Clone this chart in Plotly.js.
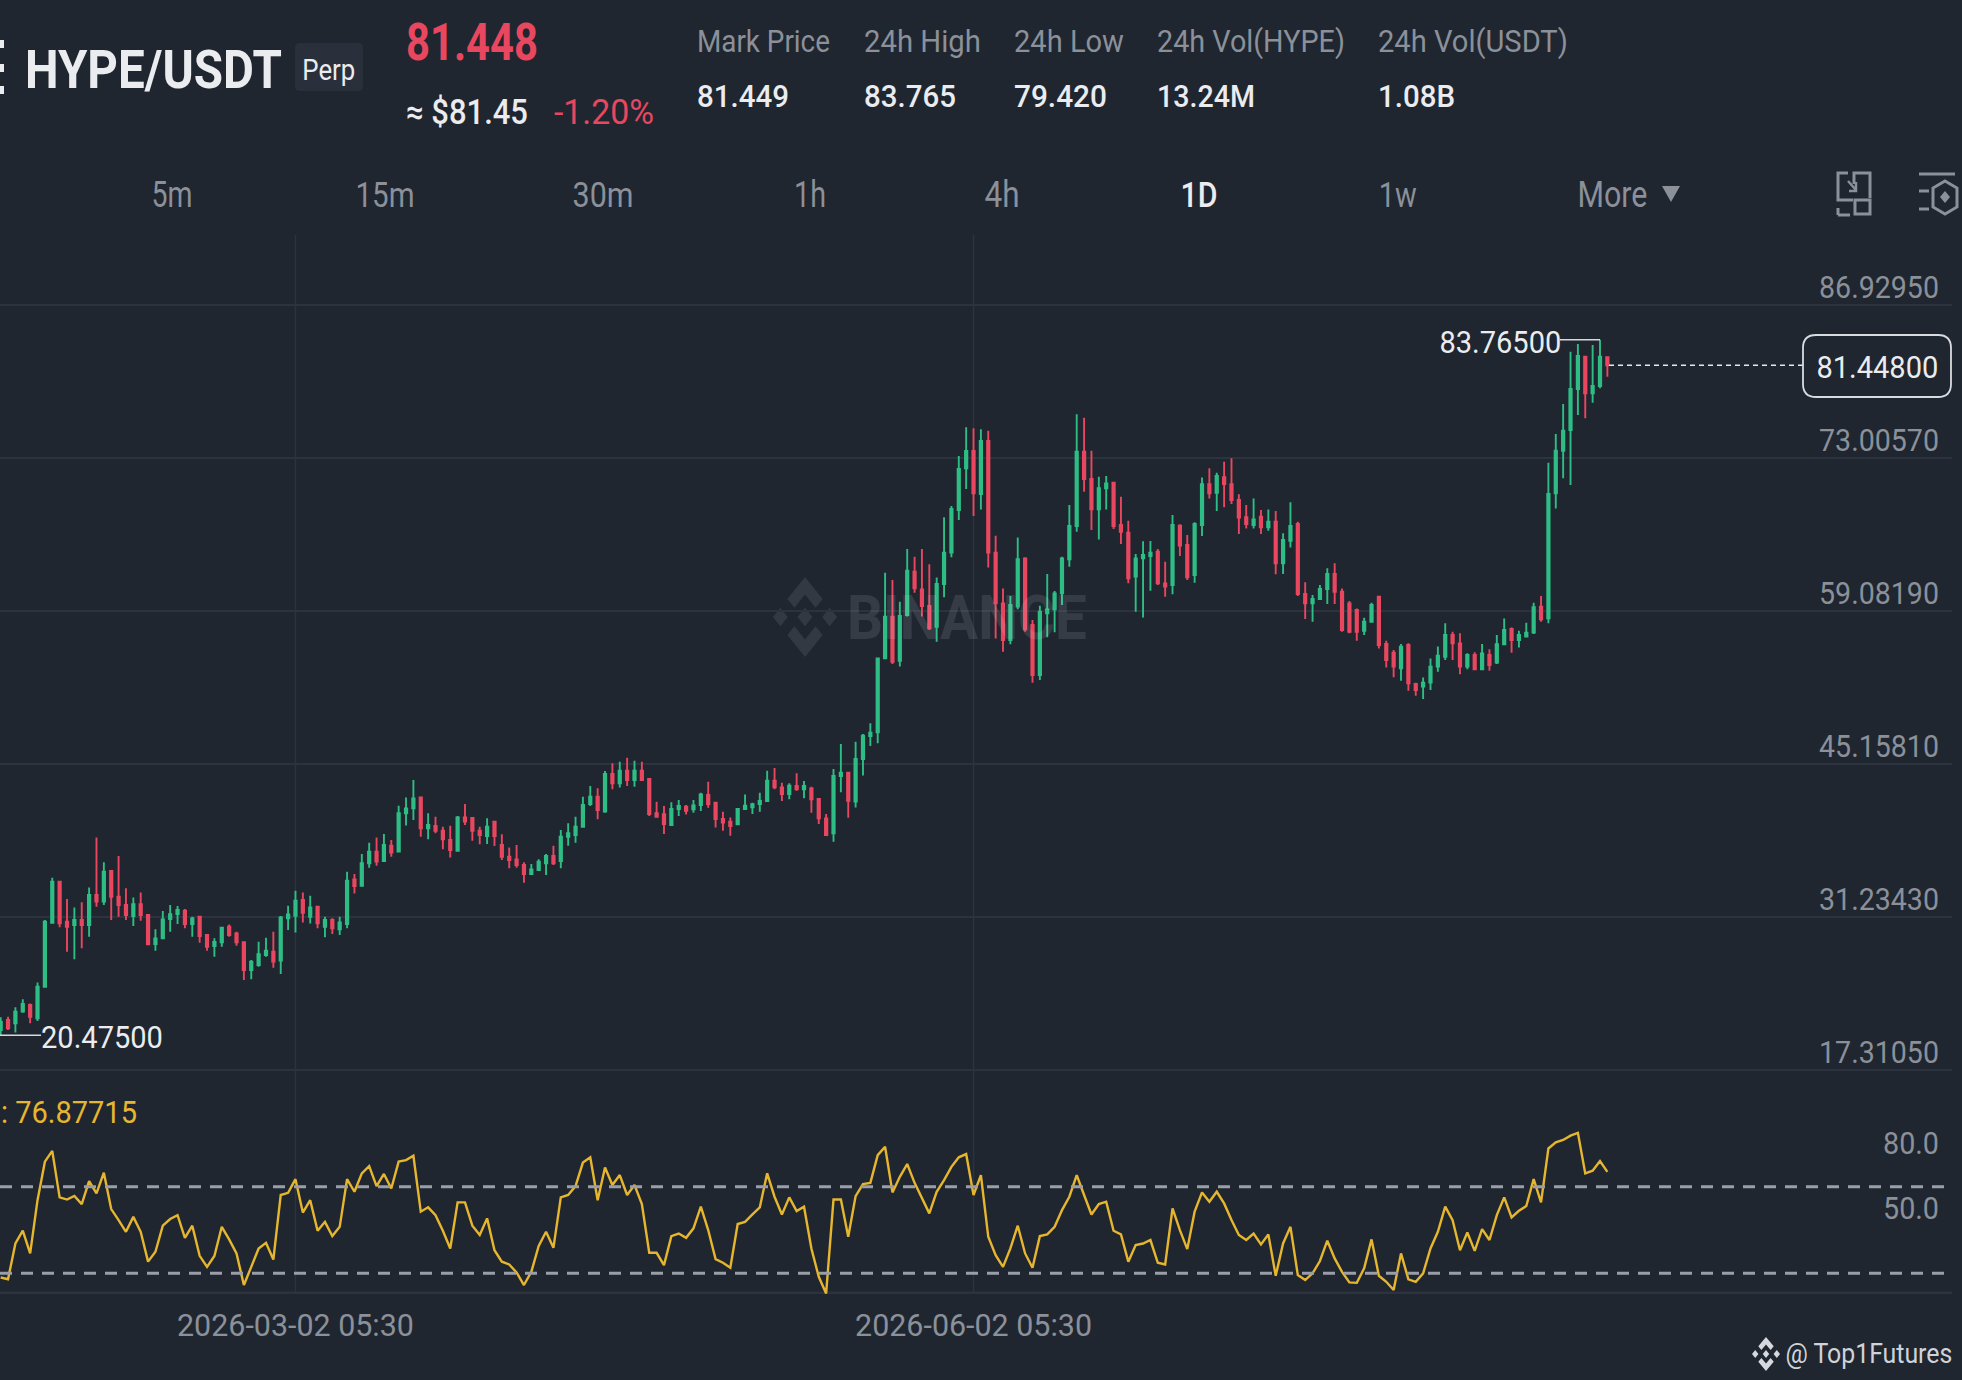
<!DOCTYPE html>
<html><head><meta charset="utf-8">
<script src="https://cdn.plot.ly/plotly-3.0.1.min.js"></script>
<style>html,body{margin:0;padding:0;background:#1F2630}#c{width:1962px;height:1380px}</style></head>
<body><div id="c"></div>
<script>
const firstDay = '2026-01-21';
const opens = [
20.95,21.86,21.56,22.62,23.22,22.01,24.89,30.71,34.45,30.80,
30.50,30.96,30.50,33.23,32.63,35.42,33.08,32.32,31.32,32.41,
31.41,28.77,29.29,31.05,31.50,31.81,30.59,31.26,29.59,28.59,
28.93,30.35,29.74,28.93,26.41,26.86,27.77,28.07,27.26,31.11,
31.35,32.78,31.26,32.17,30.35,30.96,30.11,30.59,34.66,34.08,
36.12,37.18,36.33,37.72,37.18,40.67,41.12,42.12,39.30,39.51,
39.09,38.24,37.27,40.30,40.24,39.09,38.60,39.91,37.78,36.72,
36.48,35.96,35.14,35.51,36.12,36.78,36.33,38.54,38.69,39.45,
41.51,42.18,40.82,44.25,43.40,44.55,43.70,44.55,43.79,40.67,
40.60,39.60,41.06,41.27,41.03,41.42,42.33,41.64,40.15,39.91,
39.66,41.06,41.21,41.51,41.79,43.64,43.03,42.42,43.15,42.85,
42.94,41.97,40.21,38.85,44.06,44.37,41.73,45.61,47.70,
48.04,54.77,58.57,54.56,58.72,62.66,61.05,59.54,57.65,61.54,64.39,
68.27,72.07,73.64,69.73,74.55,64.39,59.78,56.44,59.48,63.87,
57.81,53.26,58.87,59.23,60.69,63.79,66.82,73.58,71.10,68.33,
70.25,70.76,66.91,66.21,62.21,63.87,64.09,64.48,61.60,61.45,
66.85,65.09,62.36,66.91,70.61,69.85,71.25,70.61,69.19,67.61,
66.91,67.67,66.70,67.21,63.42,65.48,67.00,60.63,59.78,60.17,
61.08,62.45,60.84,59.78,59.17,57.29,58.11,60.39,56.08,55.29,
53.86,55.99,52.44,52.20,52.56,54.02,54.92,56.90,56.14,54.02,
55.08,53.77,55.08,54.38,56.05,57.44,56.44,56.75,57.11,59.48,
58.41,69.79,73.67,75.55,79.29,82.23,78.89,79.56,82.17];
const highs = [
22.10,22.16,23.01,23.74,23.37,25.28,30.96,34.81,34.51,32.87,
32.11,32.57,33.93,38.48,36.21,35.45,36.78,33.84,33.02,33.47,
31.50,30.11,31.78,32.32,32.23,31.96,31.26,31.32,29.68,29.29,
30.35,30.56,29.89,28.99,27.32,28.99,29.35,29.89,31.32,32.26,
33.63,33.47,33.17,32.23,31.26,31.11,31.26,35.36,35.14,36.96,
38.00,38.48,38.79,38.24,41.36,42.12,43.70,42.18,40.67,40.36,
39.45,39.54,40.42,41.51,40.30,39.45,40.21,40.00,38.76,37.57,
37.78,36.21,36.05,36.48,36.96,37.72,39.15,39.76,40.36,42.18,
43.15,42.94,44.52,45.22,45.37,45.73,45.46,45.37,43.85,41.73,
41.33,41.67,41.88,41.42,41.88,42.55,43.55,41.73,40.82,40.30,
41.12,42.39,41.64,42.55,44.55,44.79,43.46,43.40,44.31,43.61,
43.09,42.03,40.60,44.70,46.98,44.43,47.19,47.89,48.86,
54.84,62.57,61.90,59.93,64.72,64.03,64.72,63.33,62.12,67.61,68.64,
73.19,75.80,75.71,75.62,75.49,65.94,61.14,60.45,65.76,63.97,
58.26,59.57,62.45,60.90,64.03,68.73,76.98,76.68,73.67,71.31,
71.37,70.85,69.49,67.30,64.27,65.42,65.45,64.72,63.57,67.82,
66.97,66.00,67.15,71.22,72.07,71.67,72.67,72.98,69.70,68.73,
69.33,68.27,68.33,68.18,66.15,68.97,67.21,61.69,60.54,61.45,
62.97,63.42,61.14,60.00,59.32,58.47,59.84,60.45,56.38,55.53,
56.08,56.14,52.56,53.02,54.77,55.84,57.96,57.20,57.05,55.23,
55.32,56.08,55.59,56.90,58.41,57.59,57.29,58.02,59.84,60.45,
72.58,75.19,77.92,82.68,83.38,82.29,83.29,83.765,82.23];
const lows = [
20.475,20.95,20.73,22.52,21.56,21.77,24.83,30.65,30.29,28.07,
27.38,28.38,29.44,32.17,32.32,30.96,31.26,30.96,30.41,30.90,
28.68,28.17,29.20,29.89,30.59,30.20,29.44,28.89,28.17,27.62,
28.53,29.44,28.62,25.50,25.56,26.71,27.62,26.62,26.04,30.05,
29.83,30.74,30.65,30.20,29.38,29.68,29.59,30.20,33.38,33.99,
35.72,35.90,36.27,36.72,37.12,39.57,40.06,38.54,38.30,38.85,
37.39,36.66,37.18,39.60,38.18,37.85,37.88,37.69,36.42,35.66,
35.72,34.35,35.05,35.45,35.05,35.96,35.66,37.72,38.00,39.36,
41.33,40.12,40.73,42.85,43.03,43.15,43.09,43.64,40.42,40.30,
38.79,39.54,40.42,40.57,40.73,40.88,41.18,39.39,39.09,38.63,
39.60,40.97,40.60,40.82,41.70,42.85,41.79,41.94,42.73,42.03,
40.73,39.69,38.63,38.09,42.58,40.27,41.21,44.12,46.79,
47.04,54.68,54.26,54.02,58.57,60.75,58.57,57.35,56.29,60.33,63.97,
67.36,70.19,67.73,68.33,63.03,56.59,55.38,56.05,59.23,57.20,
52.56,52.80,56.69,57.14,59.63,63.12,66.30,69.94,66.45,65.60,
68.33,66.54,65.18,61.60,59.02,58.48,60.93,61.45,60.39,60.60,
64.09,61.90,61.66,65.91,69.33,68.18,68.52,68.82,66.09,66.60,
66.60,66.09,66.39,62.42,62.45,64.85,60.45,58.35,58.11,60.14,
59.72,59.72,57.20,57.05,56.38,56.90,58.02,55.68,53.95,53.05,
52.74,51.83,51.37,51.07,51.89,53.56,54.62,54.62,53.32,53.77,
53.71,53.71,53.65,54.26,55.99,55.29,55.77,56.69,56.99,58.11,
57.96,68.42,71.16,70.55,76.92,76.62,78.04,79.35,80.41];
const closes = [
21.71,21.10,22.62,23.31,22.16,24.89,30.80,34.45,30.65,30.35,
30.96,30.50,33.23,32.63,35.36,33.08,32.32,31.41,32.41,31.41,
28.74,29.29,31.02,31.50,31.87,30.59,31.11,29.50,28.53,28.96,
30.26,29.59,28.93,26.41,27.17,27.86,28.17,27.17,31.20,31.47,
32.72,31.62,32.11,30.65,30.96,30.20,30.74,34.54,34.05,36.12,
37.18,36.27,37.78,37.09,40.67,41.12,42.03,39.30,39.60,39.09,
38.30,37.33,40.30,39.91,39.09,38.69,39.45,38.60,36.72,36.42,
35.96,35.14,35.57,36.27,36.78,36.12,38.54,38.85,39.45,41.42,
42.18,40.97,44.25,43.40,44.55,43.70,44.55,43.70,40.60,40.36,
39.69,41.06,41.33,40.91,41.39,42.39,41.51,40.15,39.82,39.51,
41.06,41.36,41.51,41.79,43.64,43.03,42.42,43.18,42.85,43.15,
41.94,40.21,38.69,44.06,44.37,41.82,45.61,47.74,48.01,
54.77,58.57,54.47,58.63,62.75,61.14,59.54,57.50,61.54,64.39,68.37,
72.00,73.64,69.79,74.55,64.39,59.78,56.44,59.63,63.79,57.41,
53.26,59.02,59.23,60.69,63.87,66.82,73.58,71.10,68.33,70.25,
70.70,66.82,66.30,62.06,63.87,64.18,64.39,61.60,61.30,66.91,
65.03,62.15,67.00,70.61,69.79,71.37,70.64,69.19,67.58,67.00,
67.42,66.70,67.21,63.42,65.54,66.82,60.63,59.78,60.17,61.08,
62.45,60.84,57.35,57.20,57.20,58.11,59.63,55.99,54.62,54.02,
55.84,52.50,51.89,52.56,54.02,55.02,56.90,56.14,54.02,55.08,
53.77,55.23,54.17,56.05,57.35,56.44,56.90,57.11,59.42,58.32,
69.73,73.67,75.49,79.29,82.29,78.89,79.56,82.23,81.448];
const rsi = [
28.1,27.3,43.8,49.7,39.2,63.8,81.6,86.6,65.1,64.1,
65.8,62.0,72.6,66.9,76.5,59.7,54.6,49.2,56.1,49.2,
35.4,40.0,52.0,55.1,56.9,46.4,52.0,38.1,33.0,38.0,
51.5,45.7,39.2,24.6,33.0,41.5,44.1,36.4,66.2,67.2,
73.5,58.1,63.8,49.7,53.8,47.2,51.5,73.5,67.7,76.2,
79.5,70.3,75.9,69.2,81.6,82.3,84.3,58.5,60.5,56.9,
49.7,41.5,62.8,62.8,52.0,47.7,55.4,40.7,35.4,34.1,
30.4,24.6,30.7,42.7,49.2,41.8,65.1,66.2,70.3,81.2,
83.6,63.8,78.9,70.8,75.4,66.2,70.8,62.0,39.5,39.5,
33.8,47.2,48.4,46.4,50.8,60.8,50.0,36.6,34.9,32.6,
52.8,53.8,57.2,60.5,76.2,65.4,57.2,65.1,58.8,60.8,
41.5,28.4,20.7,64.1,64.1,46.9,65.7,71.2,71.8,84.6,
88.5,67.4,74.6,80.5,71.8,65.1,57.7,67.7,73.1,79.2,
83.6,85.1,66.2,75.4,46.9,38.4,33.0,41.5,52.0,39.2,
32.6,47.2,48.0,51.5,59.2,65.4,75.4,66.2,57.2,62.0,
63.1,49.7,48.0,35.4,43.1,43.8,45.4,34.9,34.1,60.0,
50.0,41.2,58.5,67.4,63.1,67.7,62.3,54.6,47.7,45.4,
48.4,43.4,48.0,28.9,43.8,51.5,29.2,26.9,30.0,35.7,
45.1,36.9,30.7,25.8,25.6,32.3,45.7,28.9,26.1,22.3,
39.2,27.2,26.1,30.0,41.5,49.2,60.8,54.6,40.7,48.9,
40.4,50.4,45.4,56.9,65.1,55.8,58.9,61.1,73.5,62.8,
87.7,90.5,91.6,93.6,94.9,76.2,77.4,81.9,76.88];
const priceTicks = [86.9295,73.0057,59.0819,45.1581,31.2343,17.3105];
const priceTickText = ['86.92950','73.00570','59.08190','45.15810','31.23430','17.31050'];
const rsiTicks = [80,50];
const rsiTickText = ['80.0','50.0'];
const dateTicks = ['2026-03-02 05:30','2026-06-02 05:30'];
const periods = ['5m','15m','30m','1h','4h','1D','1w','More'];
const statNames = ['Mark Price','24h High','24h Low','24h Vol(HYPE)','24h Vol(USDT)'];
const statValues = ['81.449','83.765','79.420','13.24M','1.08B'];

const dates = opens.map((_, i) => {
  const d = new Date(Date.parse(firstDay + 'T05:30:00Z') + i * 864e5);
  return d.toISOString().slice(0, 16).replace('T', ' ');
});

const W = 1962, H = 1380;
const FONT = 'Roboto,"Liberation Sans",sans-serif';
const BG = '#1F2630', GRID = '#2C333E', GRAY = '#8B9099', WHITE = '#EAECEF', RED = '#E8475F', GREEN = '#2EBD85', GOLD = '#E6B62F';
const px = x => x / W, py = y => 1 - y / H;

// rendered widths of the condensed interface font
const textWidths = {
  'HYPE/USDT': 257, 'Perp': 53, '81.448': 132, '≈ $81.45': 122, '-1.20%': 100,
  'Mark Price': 133, '24h High': 117, '24h Low': 110, '24h Vol(HYPE)': 188, '24h Vol(USDT)': 190,
  '81.449': 92, '83.765': 92, '79.420': 93, '13.24M': 98, '1.08B': 77,
  '5m': 41, '15m': 59, '30m': 61, '1h': 32, '4h': 35, '1D': 37, '1w': 38, 'More': 70,
  '83.76500': 122, '20.47500': 122, '81.44800': 122, ': 76.87715': 136, '@ Top1Futures': 167, 'BINANCE': 240,
  '80.0': 56, '50.0': 56, '2026-03-02 05:30': 237, '2026-06-02 05:30': 237
};

function label(text, x, y, size, color, anchor, weight) {
  return {text, xref: 'paper', yref: 'paper', x: px(x), y: py(y),
    xanchor: anchor || 'left', yanchor: 'middle', showarrow: false, borderpad: 0,
    font: {family: FONT, size: size, color: color, weight: weight || 400}};
}
const annotations = [
  label('HYPE/USDT', 24, 69, 54, WHITE, 'left', 700),
  label('Perp', 329, 69, 30, WHITE, 'center'),
  label('81.448', 404.5, 42, 52, RED, 'left', 700),
  label('≈ $81.45', 404.5, 112, 35, WHITE, 'left', 500),
  label('-1.20%', 552.5, 112, 35, RED, 'left'),
  label(': 76.87715', 0, 1112, 32, GOLD, 'left'),
  label('83.76500', 1561.5, 342, 32, WHITE, 'right'),
  label('20.47500', 39.5, 1037, 32, WHITE, 'left'),
  label('81.44800', 1939, 367, 32, WHITE, 'right'),
  label('@ Top1Futures', 1953, 1354, 27, '#CFD3D9', 'right'),
  label('BINANCE', 846, 617, 62, 'rgba(255,255,255,0.10)', 'left', 700)
];
const statX = [695.5, 862.5, 1012.5, 1155.5, 1376.5];
statNames.forEach((s, i) => {
  annotations.push(label(s, statX[i], 41, 32, GRAY));
  annotations.push(label(statValues[i], statX[i], 96, 32, WHITE, 'left', 500));
});
const periodX = [172, 385, 603, 810, 1002, 1199, 1397, 1612];
periods.forEach((s, i) => annotations.push(
  label(s, periodX[i], 195, 36, s === '1D' ? WHITE : GRAY, 'center', s === '1D' ? 500 : 400)));

function path(d, fill, line, width, layer) {
  return {type: 'path', xref: 'paper', yref: 'paper', path: d, fillcolor: fill || 'rgba(0,0,0,0)',
    line: {color: line || 'rgba(0,0,0,0)', width: width || 0}, layer: layer || 'above'};
}
const P = (x, y) => px(x).toFixed(5) + ' ' + py(y).toFixed(5);
function rrect(x0, y0, x1, y1, r) {
  return `M${P(x0 + r, y0)}L${P(x1 - r, y0)}Q${P(x1, y0)} ${P(x1, y0 + r)}L${P(x1, y1 - r)}Q${P(x1, y1)} ${P(x1 - r, y1)}L${P(x0 + r, y1)}Q${P(x0, y1)} ${P(x0, y1 - r)}L${P(x0, y0 + r)}Q${P(x0, y0)} ${P(x0 + r, y0)}Z`;
}
function logo(cx, cy, rx, ry, color, layer) {
  const a = rx, b = ry;
  const diamond = (x, y, s) => `M${P(cx + x * a, cy + y * b - s * b)}L${P(cx + x * a + s * a, cy + y * b)}L${P(cx + x * a, cy + y * b + s * b)}L${P(cx + x * a - s * a, cy + y * b)}Z`;
  const chev = (sx, sy) => `M${P(cx, cy + sy * b)}L${P(cx + sx * a * 0.55, cy + sy * b * 0.45)}L${P(cx + sx * a * 0.33, cy + sy * b * 0.23)}L${P(cx, cy + sy * b * 0.56)}L${P(cx - sx * a * 0.33, cy + sy * b * 0.23)}L${P(cx - sx * a * 0.55, cy + sy * b * 0.45)}Z`;
  return path(diamond(0, 0, 0.23) + diamond(-0.77, 0, 0.23) + diamond(0.77, 0, 0.23) + chev(1, -1) + chev(1, 1), color, null, 0, layer);
}

const hline = (y, color, w, x1) => ({type: 'line', xref: 'paper', yref: 'paper', x0: 0, x1: px(x1 || 1952), y0: py(y), y1: py(y), line: {color, width: w}, layer: 'below'});
const shapes = [
  ...dateTicks.map(d => ({type: 'line', xref: 'x', yref: 'paper', x0: d, x1: d, y0: py(235), y1: py(1292), line: {color: GRID, width: 1.5}, layer: 'below'})),
  hline(1292.7, GRID, 2.5),
  ...[70, 30].map(v => ({type: 'line', xref: 'paper', yref: 'y2', x0: 0, x1: px(1952), y0: v, y1: v, line: {color: '#9A9EA8', width: 3, dash: '12px,9px'}, layer: 'above'})),
  {type: 'line', xref: 'paper', yref: 'y', x0: px(1560), x1: px(1600), y0: 83.765, y1: 83.765, line: {color: '#D5D8DC', width: 1.5}},
  {type: 'line', xref: 'paper', yref: 'y', x0: 0, x1: px(41), y0: 20.475, y1: 20.475, line: {color: '#D5D8DC', width: 1.5}},
  {type: 'line', xref: 'paper', yref: 'y', x0: px(1609), x1: px(1803), y0: 81.448, y1: 81.448, line: {color: '#E6E8EB', width: 1.5, dash: '5px,4px'}},
  path(rrect(1803, 335, 1951, 397, 13), BG, '#D8DBE0', 1.8),
  path(rrect(295, 43, 363, 91, 5), '#2A303B', null, 0, 'below'),
  path(`M${P(1662, 186)}L${P(1680, 186)}L${P(1671, 202)}Z`, GRAY),
  ...[44, 68, 90].map(y => path(`M${P(0, y - 4)}L${P(4, y - 4)}L${P(4, y + 4)}L${P(0, y + 4)}Z`, WHITE)),
  // layout-switch icon
  path(`M${P(1854, 184)}L${P(1854, 173)}L${P(1870, 173)}L${P(1870, 198)}M${P(1853, 200)}L${P(1838, 200)}L${P(1838, 173)}L${P(1848, 173)}M${P(1838, 215)}L${P(1838, 208)}M${P(1838, 215)}L${P(1850, 215)}`, null, GRAY, 3),
  path(`M${P(1855, 200)}L${P(1870, 200)}L${P(1870, 214)}L${P(1855, 214)}Z`, null, GRAY, 3),
  path(`M${P(1848, 181)}L${P(1856, 190)}M${P(1856, 182)}L${P(1856, 191)}L${P(1849, 191)}`, null, GRAY, 2.5),
  // settings icon
  path(`M${P(1919, 174)}L${P(1955, 174)}M${P(1919, 191)}L${P(1929, 191)}M${P(1919, 209)}L${P(1929, 209)}M${P(1945, 181)}L${P(1957, 188)}L${P(1957, 207)}L${P(1945, 214)}L${P(1933, 207)}L${P(1933, 188)}Z`, null, GRAY, 3),
  path(`M${P(1945, 191)}L${P(1950, 197)}L${P(1945, 203)}L${P(1940, 197)}Z`, GRAY),
  logo(805, 617, 32, 40, 'rgba(255,255,255,0.09)', 'below'),
  logo(1766, 1354, 14, 17, '#D5D8DC')
];

const data = [
  {type: 'candlestick', x: dates, open: opens, high: highs, low: lows, close: closes, xaxis: 'x', yaxis: 'y',
   whiskerwidth: 0, hoverinfo: 'x+y',
   increasing: {line: {color: GREEN, width: 1.9}, fillcolor: GREEN},
   decreasing: {line: {color: RED, width: 1.9}, fillcolor: RED}},
  {type: 'scatter', mode: 'lines', x: dates, y: rsi, xaxis: 'x', yaxis: 'y2', cliponaxis: false,
   line: {color: GOLD, width: 2.4}}
];
const layout = {
  width: W, height: H, margin: {l: 0, r: 0, t: 0, b: 0}, paper_bgcolor: BG, plot_bgcolor: 'rgba(0,0,0,0)',
  showlegend: false, boxgap: 0.55, boxgroupgap: 0.3, hovermode: false,
  font: {family: FONT},
  xaxis: {type: 'date', domain: [0, 1952 / W], range: ['2026-01-21 03:20', '2026-10-12 23:44'], anchor: 'y2',
    showgrid: false, zeroline: false, showline: false, rangeslider: {visible: false},
    tickmode: 'array', tickvals: dateTicks, ticktext: dateTicks, ticks: '', ticklabelstandoff: 8,
    tickfont: {family: FONT, size: 32, color: GRAY}},
  yaxis: {domain: [py(1140), py(235)], range: [17.3105 - 70 * 0.09101, 93.30], side: 'right', anchor: 'x',
    tickmode: 'array', tickvals: priceTicks, ticktext: priceTickText, gridcolor: GRID, gridwidth: 1.5,
    zeroline: false, showline: false, ticks: '', ticklabelposition: 'inside', ticklabelstandoff: 10, ticklabelshift: -18,
    tickfont: {family: FONT, size: 32, color: GRAY}},
  yaxis2: {domain: [py(1295), py(1090)], range: [20, 114.7], side: 'right', anchor: 'x',
    tickmode: 'array', tickvals: rsiTicks, ticktext: rsiTickText, showgrid: false,
    zeroline: false, showline: false, ticks: '', ticklabelposition: 'inside', ticklabelstandoff: 10, ticklabelshift: -22,
    tickfont: {family: FONT, size: 32, color: GRAY}},
  shapes, annotations
};
Plotly.newPlot('c', data, layout, {staticPlot: true, displayModeBar: false}).then(() => {
  // Condense every text horizontally to its measured width, keeping its height and its anchored side.
  document.querySelectorAll('#c svg text').forEach(t => {
    const s = (t.textContent || '').trim();
    if (!s) return;
    const L = t.getComputedTextLength();
    if (!L) return;
    const target = textWidths[s] || (/^\d+\.\d{5}$/.test(s) ? 120 : L * 0.83);
    const holder = t.closest('.annotation');
    let x = parseFloat(t.getAttribute('x')) || 0;
    if (holder) {
      const a = annotations[+holder.getAttribute('data-index')];
      if (a.xanchor === 'left') { x -= L / 2; t.setAttribute('x', x); t.style.textAnchor = 'start'; }
      if (a.xanchor === 'right') { x += L / 2; t.setAttribute('x', x); t.style.textAnchor = 'end'; }
      const bg = holder.querySelector('rect.bg');
      if (bg) bg.setAttribute('width', 0);
    }
    const prev = t.getAttribute('transform') || '';
    t.setAttribute('transform', `${prev} translate(${x},0) scale(${target / L},1) translate(${-x},0)`);
  });
});
</script></body></html>
